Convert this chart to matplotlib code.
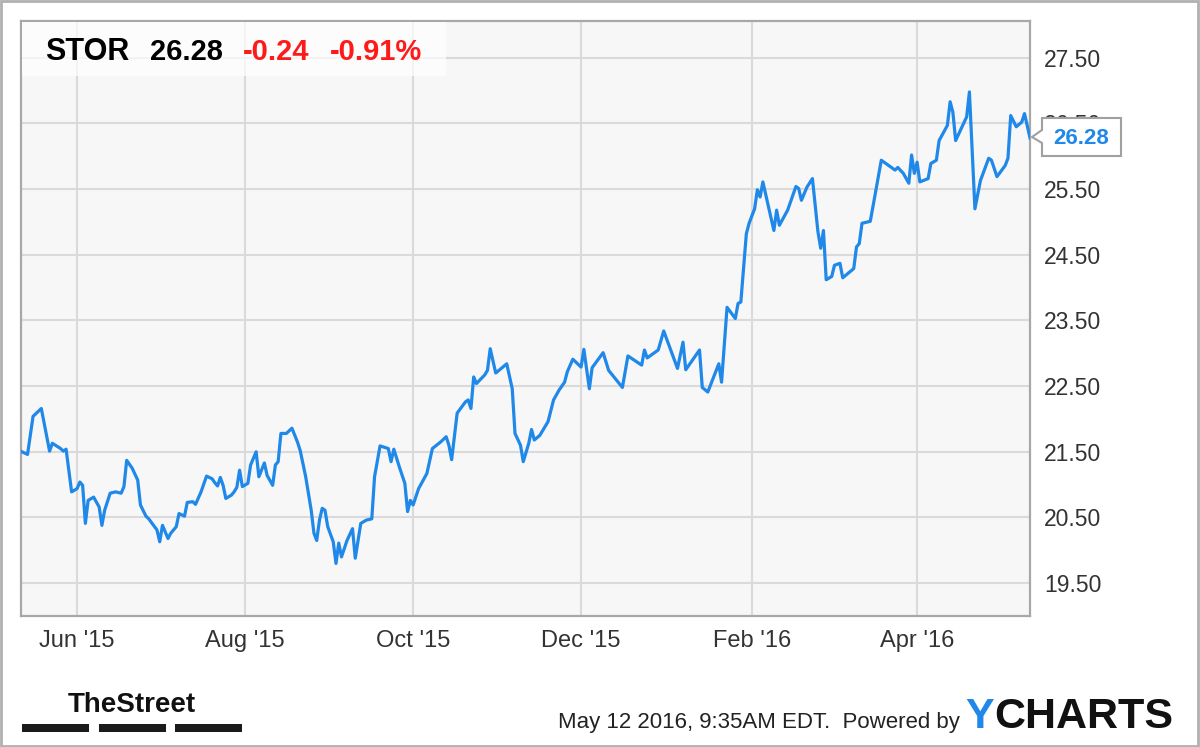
import numpy as np
import pandas as pd
import matplotlib
matplotlib.use('Agg')
import matplotlib.pyplot as plt
from matplotlib.patches import Rectangle, Polygon

plt.rcParams['font.family'] = ['Liberation Sans', 'DejaVu Sans']
NARROW = ['Liberation Sans Narrow', 'Liberation Sans', 'DejaVu Sans']

# STOR daily close (days since 2015-05-12)
start = pd.Timestamp('2015-05-12')
day_offsets = [0, 2, 4, 7, 9, 10, 11, 14, 15, 16, 18, 20, 21, 22, 23, 24, 26, 28, 29, 30,
               32, 34, 36, 37, 38, 40, 42, 43, 45, 46, 49, 50, 51, 53, 54, 56, 57, 59, 60, 62,
               63, 65, 67, 69, 70, 71, 72, 73, 74, 76, 77, 78, 79, 80, 82, 83, 85, 86, 88, 89,
               91, 92, 93, 94, 96, 98, 100, 101, 103, 105, 106, 107, 108, 109, 110, 111, 113, 114, 115, 116,
               118, 120, 121, 123, 125, 127, 128, 130, 133, 134, 135, 137, 139, 140, 141, 142, 144, 147, 149, 152,
               154, 155, 156, 158, 161, 162, 163, 164, 165, 168, 169, 170, 172, 174, 176, 178, 179, 181, 182, 184,
               185, 186, 188, 191, 193, 195, 197, 198, 200, 203, 204, 206, 207, 211, 213, 218, 220, 225, 226, 227,
               231, 233, 238, 240, 241, 246, 247, 249, 253, 254, 256, 259, 260, 261, 263, 264, 266, 267, 268, 269,
               273, 274, 275, 278, 281, 282, 283, 285, 287, 289, 290, 291, 292, 294, 295, 297, 298, 302, 303, 304,
               305, 308, 309, 312, 315, 317, 318, 320, 322, 323, 324, 325, 326, 329, 330, 332, 333, 336, 337, 338,
               339, 341, 343, 344, 346, 348, 351, 352, 354, 357, 358, 359, 361, 363, 364, 366]
prices = [21.50, 21.46, 22.04, 22.16, 21.73, 21.51, 21.63, 21.55, 21.51, 21.54, 20.89, 20.94, 21.04, 20.99, 20.41, 20.76, 20.81, 20.66, 20.38, 20.61,
          20.87, 20.89, 20.87, 20.97, 21.37, 21.25, 21.07, 20.69, 20.52, 20.48, 20.31, 20.13, 20.38, 20.18, 20.26, 20.36, 20.56, 20.52, 20.73, 20.74,
          20.70, 20.89, 21.13, 21.09, 21.03, 20.98, 21.11, 20.99, 20.79, 20.84, 20.89, 20.96, 21.22, 20.97, 21.02, 21.30, 21.50, 21.12, 21.33, 21.14,
          20.99, 21.30, 21.35, 21.78, 21.78, 21.86, 21.65, 21.52, 21.12, 20.61, 20.26, 20.15, 20.46, 20.64, 20.61, 20.36, 20.13, 19.80, 20.11, 19.90,
          20.15, 20.33, 19.88, 20.41, 20.46, 20.48, 21.12, 21.59, 21.55, 21.35, 21.54, 21.27, 21.02, 20.59, 20.76, 20.69, 20.94, 21.17, 21.55, 21.65,
          21.73, 21.60, 21.38, 22.09, 22.26, 22.29, 22.16, 22.64, 22.54, 22.67, 22.74, 23.07, 22.70, 22.77, 22.84, 22.46, 21.78, 21.60, 21.35, 21.63,
          21.84, 21.68, 21.75, 21.96, 22.29, 22.44, 22.56, 22.72, 22.91, 22.79, 23.06, 22.46, 22.78, 23.01, 22.74, 22.48, 22.96, 22.82, 23.05, 22.93,
          23.05, 23.34, 22.77, 23.17, 22.75, 23.05, 22.48, 22.41, 22.84, 22.56, 23.70, 23.53, 23.76, 23.78, 24.82, 24.98, 25.20, 25.49, 25.38, 25.61,
          24.87, 25.18, 24.95, 25.18, 25.54, 25.51, 25.33, 25.53, 25.66, 24.85, 24.60, 24.87, 24.12, 24.17, 24.34, 24.37, 24.15, 24.29, 24.62, 24.67,
          24.98, 25.01, 25.24, 25.94, 25.85, 25.79, 25.83, 25.74, 25.59, 26.02, 25.74, 25.91, 25.61, 25.66, 25.89, 25.94, 26.24, 26.47, 26.83, 26.67,
          26.24, 26.42, 26.60, 26.98, 25.20, 25.63, 25.97, 25.94, 25.69, 25.86, 25.97, 26.62, 26.45, 26.52, 26.65, 26.28]

ticker = 'STOR'
last_price = '26.28'
change = '-0.24'
change_pct = '-0.91%'
y_ticks = [19.5, 20.5, 21.5, 22.5, 23.5, 24.5, 25.5, 26.5, 27.5]
x_tick_dates = ['2015-06-01', '2015-08-01', '2015-10-01', '2015-12-01', '2016-02-01', '2016-04-01']
x_tick_labels = ["Jun '15", "Aug '15", "Oct '15", "Dec '15", "Feb '16", "Apr '16"]
timestamp = 'May 12 2016, 9:35AM EDT.  Powered by'

dates = start + pd.to_timedelta(day_offsets, unit='D')

W, H = 1200, 747
fig = plt.figure(figsize=(W / 100, H / 100), dpi=100)


def fx(px):
    return px / W


def fy(py):
    return 1 - py / H


ax = fig.add_axes([fx(21), fy(616), fx(1030) - fx(21), fy(21) - fy(616)])
ax.set_facecolor('#f7f7f7')
ax.plot(dates, prices, color='#1f88e8', lw=2.3, solid_joinstyle='round', zorder=3)

ax.set_xlim(start - pd.Timedelta(hours=9), start + pd.Timedelta(days=366))
ax.set_ylim(19.0, 28.06)

ax.set_yticks(y_ticks)
ax.set_yticklabels(['%.2f' % v for v in y_ticks])
ax.yaxis.tick_right()
ax.set_xticks(pd.to_datetime(x_tick_dates))
ax.set_xticklabels(x_tick_labels, family=NARROW, fontsize=17)
ax.tick_params(axis='y', length=0, pad=10, labelsize=16.5, labelcolor='#333333')
ax.tick_params(axis='x', length=0, pad=10, labelcolor='#333333')
ax.grid(True, color='#dadada', lw=1.5, zorder=0)
for s in ax.spines.values():
    s.set_color('#a8a8a8')
    s.set_linewidth(1.6)

# header box
fig.patches.append(Rectangle((fx(22), fy(76)), fx(446) - fx(22), fy(22) - fy(76),
                             transform=fig.transFigure, facecolor='white', alpha=0.7,
                             edgecolor='none', zorder=5))
hy = fy(60)
fig.text(fx(45), hy, ticker, fontsize=22, fontweight='bold', va='baseline', zorder=6)
fig.text(fx(150), hy, last_price, fontsize=21, fontweight='bold', va='baseline', zorder=6)
fig.text(fx(243), hy, change, fontsize=21, fontweight='bold', color='#ff1a1a', va='baseline', zorder=6)
fig.text(fx(330), hy, change_pct, fontsize=21, fontweight='bold', color='#ff1a1a', va='baseline', zorder=6)

# last price flag (covers the 26.50 tick label, as in the original)
flag = [(1042, 118), (1121, 118), (1121, 156), (1042, 156), (1042, 143), (1032, 137), (1042, 130)]
fig.patches.append(Polygon([(fx(a), fy(b)) for a, b in flag], closed=True, transform=fig.transFigure,
                           facecolor='white', edgecolor='#a0a0a0', lw=1.5, zorder=6))
fig.text(fx(1081), fy(138), last_price, fontsize=16, fontweight='bold', color='#1f88e8',
         ha='center', va='center', zorder=7)

# footer
fig.text(fx(132), fy(712), 'TheStreet', family=NARROW, fontsize=20, fontweight='bold',
         ha='center', va='baseline', color='#111111')
for x0 in [22, 99, 175]:
    fig.patches.append(Rectangle((fx(x0), fy(732)), fx(67), 8 / H, transform=fig.transFigure,
                                 facecolor='#1a1a1a', edgecolor='none'))
fig.text(fx(960), fy(728), timestamp, family=NARROW, fontsize=16, ha='right', va='baseline',
         color='#222222')
fig.text(fx(965), fy(728), 'Y', fontsize=31, fontweight='bold', color='#1f88e8', va='baseline')
fig.text(fx(994), fy(728), 'CHARTS', fontsize=31, fontweight='bold', color='#111111', va='baseline')

# outer frame
fig.patches.append(Rectangle((0.001, 0.002), 0.997, 0.996, transform=fig.transFigure,
                             facecolor='none', edgecolor='#b0b0b0', lw=2))

fig.savefig('out.png', dpi=100)
